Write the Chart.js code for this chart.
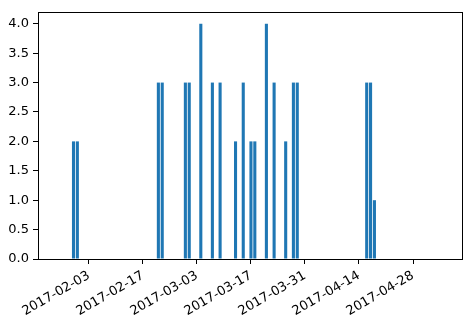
<!DOCTYPE html>
<html>
<head>
<meta charset="utf-8">
<script src="https://cdn.jsdelivr.net/npm/chart.js@4/dist/chart.umd.min.js"></script>
<style>
  html, body { margin: 0; padding: 0; background: #fff; }
  #wrap { width: 474px; height: 326px; }
</style>
</head>
<body>
<div id="wrap"><canvas id="my-chart"></canvas></div>
<script>
'use strict';

//  DATA
let dates = [
  '2017-01-30', '2017-01-31', '2017-02-21', '2017-02-22', '2017-02-28',
  '2017-03-01', '2017-03-04', '2017-03-07', '2017-03-09', '2017-03-13',
  '2017-03-15', '2017-03-17', '2017-03-18', '2017-03-21', '2017-03-23',
  '2017-03-26', '2017-03-28', '2017-03-29', '2017-04-16', '2017-04-17',
  '2017-04-18'
];
let counts = [2, 2, 3, 3, 3, 3, 4, 3, 3, 2, 3, 2, 2, 4, 3, 2, 3, 3, 3, 3, 1];
let tickDates = ['2017-02-03', '2017-02-17', '2017-03-03', '2017-03-17', '2017-03-31', '2017-04-14', '2017-04-28'];
let yMax = 4.2;
let yStep = 0.5;

//  HELPERS
const DAY = 86400000;
let baseTime = Date.parse(tickDates[0]);

function dayOf(s) {
  return (Date.parse(s) - baseTime) / DAY;
}

function labelOf(v) {
  return new Date(baseTime + v * DAY).toISOString().slice(0, 10);
}

let points = [];
for (let i = 0; i < dates.length; i++) {
  points.push({ x: dayOf(dates[i]), y: counts[i] });
}
let tickDays = tickDates.map(dayOf);

// axis limits, in days from the first tick
let xMin = -13.2;
let xMax = 96.7;

//  FRAME ROUND THE PLOT (matplotlib style box)
let framePlugin = {
  id: 'frame',
  afterDraw(chart) {
    let ctx = chart.ctx;
    let a = chart.chartArea;
    ctx.save();
    ctx.strokeStyle = '#000';
    ctx.lineWidth = 1;
    ctx.strokeRect(Math.round(a.left) + 0.5, Math.round(a.top) + 0.5,
      Math.round(a.right - a.left), Math.round(a.bottom - a.top));
    ctx.restore();
  }
};

let font = { family: "'DejaVu Sans'", size: 13 };

let theChart = {
  type: 'bar',
  data: {
    datasets: [{
      data: points,
      backgroundColor: '#1f77b4',
      borderWidth: 0,
      barPercentage: 0.8,
      categoryPercentage: 1.0
    }]
  },
  options: {
    responsive: true,
    maintainAspectRatio: false,
    animation: false,
    layout: { padding: { top: 12, right: 12, left: 0, bottom: 0 } },
    plugins: {
      legend: { display: false },
      tooltip: { enabled: false }
    },
    scales: {
      x: {
        type: 'linear',
        min: xMin,
        max: xMax,
        offset: false,
        grid: { offset: false, drawOnChartArea: false, drawTicks: true, tickLength: 5, color: '#000' },
        border: { display: true, color: '#000' },
        afterBuildTicks: (axis) => {
          axis.ticks = tickDays.map(v => ({ value: v }));
        },
        afterFit: (axis) => { axis.height = 67; },
        ticks: {
          font: font,
          color: '#000',
          padding: 4,
          autoSkip: false,
          minRotation: 30,
          maxRotation: 30,
          callback: (v) => labelOf(v)
        }
      },
      y: {
        min: 0,
        max: yMax,
        grid: { drawOnChartArea: false, drawTicks: true, tickLength: 5, color: '#000' },
        border: { display: true, color: '#000' },
        afterFit: (axis) => { axis.width = 38; },
        ticks: {
          font: font,
          color: '#000',
          padding: 4,
          stepSize: yStep,
          includeBounds: false,
          callback: (v) => v.toFixed(1)
        }
      }
    }
  },
  plugins: [framePlugin]
};

new Chart(document.getElementById('my-chart'), theChart);
</script>
</body>
</html>
